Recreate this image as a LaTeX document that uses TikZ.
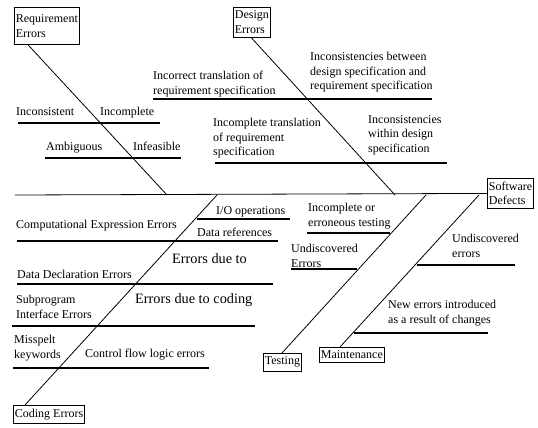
\documentclass[tikz,border=0pt]{standalone}
\usepackage{fontspec}
\setmainfont{Liberation Serif}
\usepackage{tikz}

\begin{document}
\begin{tikzpicture}[x=1pt, y=-1pt,
  box/.style={draw, line width=0.8pt, inner xsep=1.5pt, inner ysep=3.5pt, align=left, anchor=north west, font=\fontsize{12}{14.5}\selectfont},
  lbl/.style={anchor=north west, inner sep=0pt, align=left, font=\fontsize{12}{14.5}\selectfont},
  big/.style={anchor=north west, inner sep=0pt, font=\fontsize{14.3}{17}\selectfont},
  rib/.style={line width=1.1pt},
  bone/.style={line width=0.8pt}]
\useasboundingbox (0,0) rectangle (538,428);

% Head and spine
\node[box] (soft) at (487,178) {Software\\Defects};
\coordinate (tail) at (15,195);
\draw[bone] (tail) -- (soft.west);

% Cause boxes
\node[box, minimum height=37pt] (req) at (14,7) {Requirement\\Errors};
\node[box] (des) at (233,7) {Design\\Errors};
\node[box] (code) at (13,405) {Coding Errors};
\node[box] (test) at (263,353) {Testing};
\node[box] (maint) at (319,347) {Maintenance};

% Joints on the spine
\coordinate (jreq) at (167,195);
\coordinate (jdes) at (395,195);
\coordinate (jcode) at (217,195);
\coordinate (jtest) at (426,195);
\coordinate (jmaint) at (479,195);

% Main bones
\draw[bone] ([xshift=14pt]req.south west) -- (jreq);
\draw[bone] ([xshift=18pt]des.south west) -- (jdes);
\draw[bone] ([xshift=12pt]code.north west) -- (jcode);
\draw[bone] ([xshift=19pt]test.north west) -- (jtest);
\draw[bone] ([xshift=21pt]maint.north west) -- (jmaint);

% Requirement errors
\draw[rib] (18,123) -- (160,123);
\node[lbl] (inconsist) at (16,107) {Inconsistent};
\node[lbl] (incompl) at (100,107) {Incomplete};
\draw[rib] (45,158) -- (181,158);
\node[lbl] (ambig) at (46,142) {Ambiguous};
\node[lbl] (infeas) at (133,142) {Infeasible};

% Design errors
\draw[rib] (153,99) -- (432,99);
\node[lbl] (incorrtr) at (153,71) {Incorrect translation of\\requirement specification};
\node[lbl] (incbetw) at (310,52) {Inconsistencies between\\design specification and\\requirement specification};
\draw[rib] (215,163) -- (447,163);
\node[lbl] (incompltr) at (213,118) {Incomplete translation\\of requirement\\specification};
\node[lbl] (incwithin) at (368,115) {Inconsistencies\\within design\\specification};

% Coding errors
\draw[rib] (197,219) -- (290,219);
\node[lbl] (io) at (216,206) {I/O operations};
\draw[rib] (17,241) -- (278,241);
\node[lbl] (comput) at (16,220) {Computational Expression Errors};
\node[lbl] (dataref) at (197,228) {Data references};
\node[big] (due) at (172,253) {Errors due to};
\draw[rib] (17,284) -- (273,284);
\node[lbl] (datadecl) at (17,270) {Data Declaration Errors};
\draw[rib] (12,326) -- (255,326);
\node[lbl] (subprog) at (16,295) {Subprogram\\Interface Errors};
\node[big] (duecoding) at (135,293) {Errors due to coding};
\draw[rib] (13,368) -- (209,368);
\node[lbl] (missp) at (14,335) {Misspelt\\keywords};
\node[lbl] (ctrl) at (85,349) {Control flow logic errors};

% Testing
\draw[rib] (307,233) -- (390,233);
\node[lbl] (inctest) at (308,203) {Incomplete or\\erroneous testing};
\draw[rib] (291,269) -- (357,269);
\node[lbl] (undiscT) at (291,244) {Undiscovered\\Errors};

% Maintenance
\draw[rib] (417,265) -- (515,265);
\node[lbl] (undiscM) at (452,234) {Undiscovered\\errors};
\draw[rib] (354,333) -- (488,333);
\node[lbl] (newerr) at (388,300) {New errors introduced\\as a result of changes};
\end{tikzpicture}
\end{document}
